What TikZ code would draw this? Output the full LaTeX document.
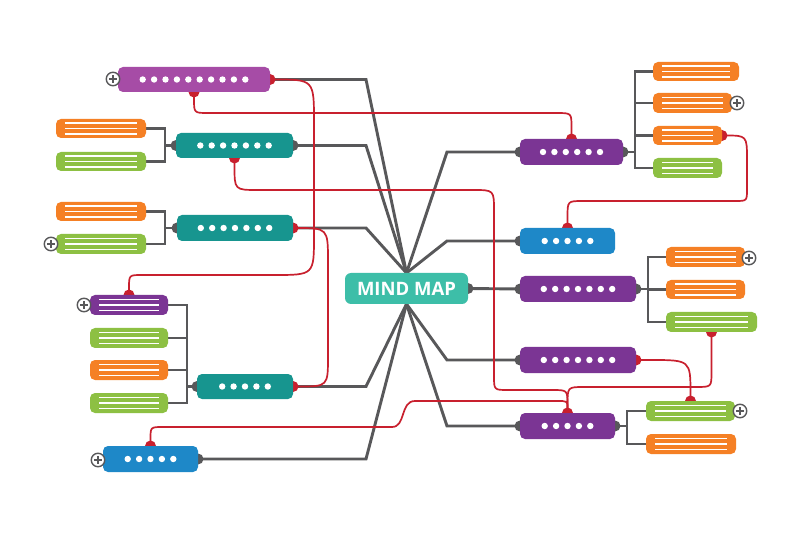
\documentclass[tikz,border=0pt]{standalone}
\usepackage{fontspec}
\newfontfamily\mmfont{Open Sans}
\usetikzlibrary{calc}
\definecolor{mmag}{HTML}{A64CA6}
\definecolor{mteal}{HTML}{17958F}
\definecolor{mcen}{HTML}{3DBEA8}
\definecolor{mpur}{HTML}{7B3594}
\definecolor{mblue}{HTML}{1E88C8}
\definecolor{morg}{HTML}{F58025}
\definecolor{mgrn}{HTML}{8DC043}
\definecolor{lgray}{HTML}{58585A}
\definecolor{lred}{HTML}{C8202E}
\pgfdeclarelayer{bg}
\pgfsetlayers{bg,main}
\tikzset{
  mbox/.style={rectangle, rounded corners=5pt, inner sep=0pt, outer sep=0pt, draw=none},
  gl/.style={draw=lgray, line width=2.9pt},
  rl/.style={draw=lred, line width=1.7pt},
  plusic/.style={circle, fill=white, draw=lgray, line width=1.4pt, minimum size=13.5pt, inner sep=0pt,
    path picture={\draw[lgray, line width=1.9pt]
      ([xshift=-3.9pt]path picture bounding box.center) -- ([xshift=3.9pt]path picture bounding box.center)
      ([yshift=-3.9pt]path picture bounding box.center) -- ([yshift=3.9pt]path picture bounding box.center);}}
}
\newcommand\mmbox[7]{%
  \node[mbox,fill=#2,minimum width={#5-#3},minimum height={#6-#4}] (#1) at ({(#3+#5)/2},{(#4+#6)/2}) {};
  \foreach \k in {1,...,#7}{\fill[white] ($(#1.center)+({(\k-(#7+1)/2)*11.4},0)$) circle (3.2pt);}
}
\newcommand\mmbar[6]{%
  \node[mbox,fill=#2,minimum width={#5-#3},minimum height={#6-#4}] (#1) at ({(#3+#5)/2},{(#4+#6)/2}) {};
  \foreach \d in {-5.5,0,5.5}{\draw[white,line width=1.5pt] ($(#1.west)+(9,\d)$) -- ($(#1.east)+(-9,\d)$);}
}
\begin{document}
\begin{tikzpicture}[x=1pt,y=-1pt]
\useasboundingbox (0,0) rectangle (800,534);
% left side
\mmbox{L1}{mmag}{118}{67}{270}{92}{10}
\mmbox{L2}{mteal}{176}{133}{293}{158}{7}
\mmbar{L2a}{morg}{56}{119}{146}{138}
\mmbar{L2b}{mgrn}{56}{152}{146}{171}
\mmbox{L3}{mteal}{177}{215}{293}{241}{7}
\mmbar{L3a}{morg}{56}{202}{146}{221}
\mmbar{L3b}{mgrn}{56}{234}{146}{254}
\mmbar{L4}{mpur}{90}{295}{168}{315}
\mmbar{L4b}{mgrn}{90}{328}{168}{348}
\mmbar{L4c}{morg}{90}{360}{168}{380}
\mmbar{L4d}{mgrn}{90}{393}{168}{413}
\mmbox{L5}{mteal}{197}{374}{293}{399}{5}
\mmbox{L6}{mblue}{103}{446}{198}{472}{5}
% centre
\node[mbox, rounded corners=6pt, fill=mcen, minimum width=123pt, minimum height=31pt, text=white,
  font=\mmfont\bfseries\fontsize{18.5}{18.5}\selectfont] (cm) at (406.5,288.5) {MIND MAP};
% right side
\mmbox{R1}{mpur}{520}{139}{623}{165}{6}
\mmbar{R1a}{morg}{653}{62}{739}{81}
\mmbar{R1b}{morg}{653}{93}{732}{113}
\mmbar{R1c}{morg}{653}{126}{722}{145}
\mmbar{R1d}{mgrn}{653}{158}{722}{178}
\mmbox{R2}{mblue}{520}{228}{615}{254}{5}
\mmbox{R3}{mpur}{520}{276}{636}{302}{7}
\mmbar{R3a}{morg}{666}{247}{745}{267}
\mmbar{R3b}{morg}{666}{280}{745}{299}
\mmbar{R3c}{mgrn}{666}{312}{757}{332}
\mmbox{R4}{mpur}{520}{347}{636}{373}{7}
\mmbox{R5}{mpur}{520}{413}{615}{439}{5}
\mmbar{R5a}{mgrn}{646}{401}{735}{421}
\mmbar{R5b}{morg}{646}{434}{736}{454}
% plus icons
\node[plusic] (pL1) at (113,79) {};
\node[plusic] (pL3b) at (51,244) {};
\node[plusic] (pL4) at (84,305) {};
\node[plusic] (pL6) at (98,460) {};
\node[plusic] (pR1b) at (737,103) {};
\node[plusic] (pR3a) at (749,258) {};
\node[plusic] (pR5a) at (740,411) {};
\begin{pgfonlayer}{bg}
\fill[white] (0,0) rectangle (800,534);
% gray connectors to centre
\draw[gl] (L1.east) -- (366,79.5) -- (cm.north);
\draw[gl] (L2.east) -- (366,145.5) -- (cm.north);
\draw[gl] (L3.east) -- (366,228) -- (cm.north);
\draw[gl] (R1.west) -- (447,152) -- (cm.north);
\draw[gl] (R2.west) -- (447,241) -- (cm.north);
\draw[gl] (cm.east) -- (R3.west);
\draw[gl] (L5.east) -- (366,386.5) -- (cm.south);
\draw[gl] (L6.east) -- (366,459) -- (cm.south);
\draw[gl] (R4.west) -- (447,360) -- (cm.south);
\draw[gl] (R5.west) -- (447,426) -- (cm.south);
% brackets
\draw[gl] (L2a.east) -- ++(19,0) |- (L2b.east);
\draw[gl] (L2.west) -- ++(-11,0);
\draw[gl] (L3a.east) -- ++(19,0) |- (L3b.east);
\draw[gl] (L3.west) -- ++(-12,0);
\draw[gl] (L4.east) -- ++(19,0) |- (L4d.east);
\draw[gl] (L4b.east) -- ++(19,0);
\draw[gl] (L4c.east) -- ++(19,0);
\draw[gl] (L5.west) -- ++(-10,0);
\draw[gl] (R1a.west) -- ++(-18,0) |- (R1d.west);
\draw[gl] (R1b.west) -- ++(-18,0);
\draw[gl] (R1c.west) -- ++(-18,0);
\draw[gl] (R1.east) -- ++(12,0);
\draw[gl] (R3a.west) -- ++(-18,0) |- (R3c.west);
\draw[gl] (R3b.west) -- ++(-18,0);
\draw[gl] (R3.east) -- ++(12,0);
\draw[gl] (R5a.west) -- ++(-19,0) |- (R5b.west);
\draw[gl] (R5.east) -- ++(12,0);
% red connectors
\draw[rl] (L1.south) -- (194,99) .. controls (194,113) .. (208,113) -- (556,113) .. controls (571.5,113) .. (571.5,127) -- (R1.north);
\draw[rl] (L1.east) -- (274,79.5) .. controls (314,79.5) .. (314,122) -- (314,236) .. controls (314,275) .. (274,275) -- (142,275) .. controls (129,275) .. (129,288) -- (L4.north);
\draw[rl] (L2.south) -- (234.5,166) .. controls (234.5,190) .. (258,190) -- (473,190) .. controls (494,190) .. (494,211) -- (494,376) .. controls (494,390) .. (508,390) -- (552,390) .. controls (567.5,390) .. (567.5,405) -- (R5.north);
\draw[rl] (L3.east) -- (296,228) .. controls (328,228) .. (328,262) -- (328,356) .. controls (328,386.5) .. (298,386.5) -- (L5.east);
\draw[rl] (L6.north) -- (150.5,439) .. controls (150.5,427) .. (163,427) -- (392,427) .. controls (406,427) and (400,401) .. (415,401) -- (557,401) .. controls (567.5,401) .. (567.5,408) -- (R5.north);
\draw[rl] (R1c.east) -- (725,135.5) .. controls (747,135.5) .. (747,160) -- (747,189) .. controls (747,201) .. (735,201) -- (583,201) .. controls (567.5,201) .. (567.5,217) -- (R2.north);
\draw[rl] (R3c.south) -- (711.5,372) .. controls (711.5,387) .. (696,387) -- (584,387) .. controls (567.5,387) .. (567.5,405) -- (R5.north);
\draw[rl] (R4.east) -- (650,360) .. controls (690.5,360) .. (690.5,394) -- (R5a.north);
% connector dots
\foreach \p in {L2.west,L2.east,L3.west,L5.west,L6.east,R1.west,R1.east,R2.west,R3.west,R3.east,R4.west,R5.west,R5.east,cm.east}
  {\fill[lgray] (\p) circle (5.5pt);}
\foreach \p in {L1.east,L1.south,L2.south,L3.east,L4.north,L5.east,L6.north,R1.north,R1c.east,R2.north,R3c.south,R4.east,R5.north,R5a.north}
  {\fill[lred] (\p) circle (5.5pt);}
\end{pgfonlayer}
\end{tikzpicture}
\end{document}
